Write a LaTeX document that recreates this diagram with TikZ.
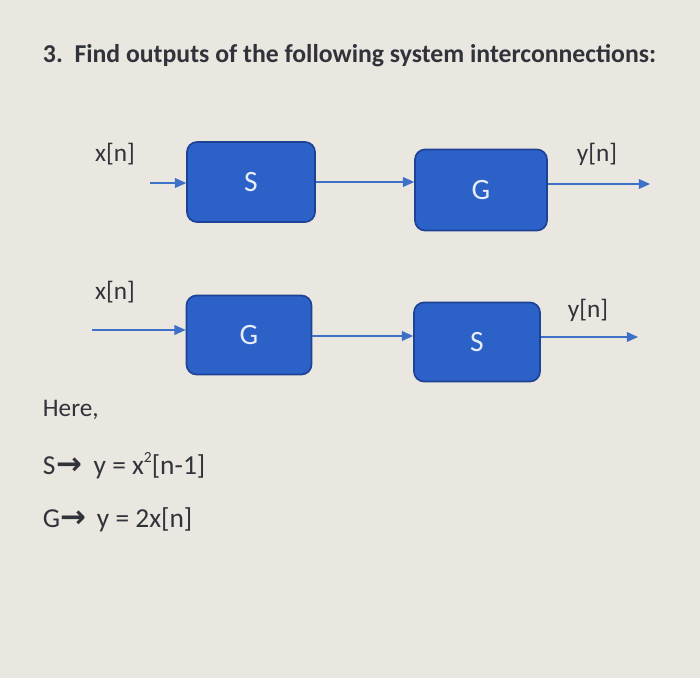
\documentclass[tikz,border=0pt]{standalone}
\usepackage{fontspec}
\setmainfont{Carlito}
\newfontfamily\symfont{DejaVu Sans}
\usetikzlibrary{arrows.meta}
\definecolor{bgpaper}{RGB}{233,231,224}
\definecolor{boxblue}{RGB}{44,98,200}
\definecolor{boxedge}{RGB}{30,66,150}
\definecolor{wireblue}{RGB}{62,112,200}
\definecolor{inkgray}{RGB}{50,50,58}
\tikzset{
  sysbox/.style={draw=boxedge,line width=1.2pt,fill=boxblue,rounded corners=0.25cm,
    text=white!88!boxblue,font=\fontsize{21}{24}\selectfont},
  wire/.style={draw=wireblue,line width=0.9pt,-{Triangle[length=8pt,width=7pt]}},
  sig/.style={text=inkgray,font=\fontsize{18}{21}\selectfont}
}
\newcommand{\impl}{{\symfont\bfseries\fontsize{22}{22}\selectfont→}}
\begin{document}
\begin{tikzpicture}
  \fill[bgpaper] (0,0) rectangle (17.5,-16.95);
  \useasboundingbox (0,0) rectangle (17.5,-16.95);
  % title
  \node[anchor=west,text=inkgray,font=\fontsize{18.3}{22}\selectfont\bfseries] (title) at (0.95,-1.4)
    {3.\ \ Find outputs of the following system interconnections:};

  % first connection: S then G
  \node[sysbox,minimum width=3.2cm,minimum height=2.0cm] (S1) at (6.275,-4.55) {S};
  \node[sysbox,minimum width=3.3cm,minimum height=2.025cm] (G1) at (12.025,-4.75) {G};
  \coordinate (in1) at (3.75,-4.575);
  \coordinate (out1) at (16.25,-4.6);
  \draw[wire] (in1) -- (in1 -| S1.west);
  \draw[wire] (S1.east) -- (S1.east -| G1.west);
  \draw[wire] (out1 -| G1.east) -- (out1);
  \node[sig] (x1) at (2.875,-3.85) {x[n]};
  \node[sig] (y1) at (14.925,-3.85) {y[n]};

  % second connection: G then S
  \node[sysbox,minimum width=3.125cm,minimum height=1.975cm] (G2) at (6.225,-8.375) {G};
  \node[sysbox,minimum width=3.15cm,minimum height=1.975cm] (S2) at (11.925,-8.55) {S};
  \coordinate (in2) at (2.3,-8.25);
  \coordinate (out2) at (15.95,-8.425);
  \draw[wire] (in2) -- (in2 -| G2.west);
  \draw[wire] (G2.east) ++(0,-0.025) coordinate (m2) -- (m2 -| S2.west);
  \draw[wire] (out2 -| S2.east) -- (out2);
  \node[sig] (x2) at (2.875,-7.3) {x[n]};
  \node[sig] (y2) at (14.7,-7.75) {y[n]};

  % definitions
  \node[anchor=west,sig] (here) at (0.95,-10.25) {Here,};
  \node[anchor=west,sig,font=\fontsize{19.5}{22}\selectfont] (defS) at (0.95,-11.65)
    {S\kern1pt\impl\,\ y = x\raisebox{0.45em}{\fontsize{11}{12}\selectfont 2}[n-1]};
  \node[anchor=west,sig,font=\fontsize{19.5}{22}\selectfont] (defG) at (0.95,-13.0)
    {G\impl\,\ y = 2x[n]};
\end{tikzpicture}
\end{document}
